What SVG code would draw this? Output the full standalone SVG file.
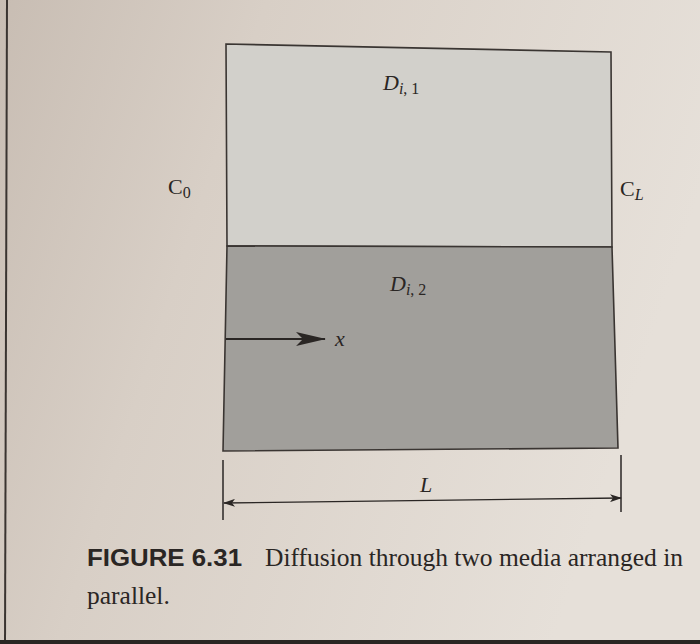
<svg xmlns="http://www.w3.org/2000/svg" width="700" height="644" viewBox="0 0 700 644">
<defs>
<linearGradient id="bg" x1="0" y1="0" x2="1" y2="0.3">
<stop offset="0" stop-color="#c8bdb3"/>
<stop offset="0.35" stop-color="#d8cfc6"/>
<stop offset="1" stop-color="#e6e0d9"/>
</linearGradient>
<marker id="ah" viewBox="0 0 12 8" refX="11" refY="4" markerWidth="12" markerHeight="8" markerUnits="userSpaceOnUse" orient="auto-start-reverse">
<path d="M0,0 L12,4 L0,8 L3,4 Z" fill="#2a2624"/>
</marker>
<marker id="ahBig" viewBox="0 0 30 14" refX="29" refY="7" markerWidth="30" markerHeight="14" markerUnits="userSpaceOnUse" orient="auto">
<path d="M0,0 L30,7 L0,14 L7,7 Z" fill="#2a2624"/>
</marker>
</defs>
<style>
.lbl{font-family:"Liberation Serif",serif;font-size:22px;fill:#2a2624}
.it{font-style:italic}
.sub{font-size:16px}
.edge{stroke:#3a3532;stroke-width:1.6}
.light{fill:#d2d0cb}
.dark{fill:#a19f9b}
.cap{font-family:"Liberation Serif",serif;font-size:25.5px;fill:#2a2624}
.capb{font-family:"Liberation Sans",sans-serif;font-weight:bold;font-size:24px;fill:#2a2624}
</style>
<rect x="0" y="0" width="700" height="644" fill="url(#bg)"/>
<line x1="7" y1="0" x2="5" y2="644" stroke="#3a3430" stroke-width="2"/>
<rect x="0" y="640" width="700" height="4" fill="#2a2522"/>

<g id="medium1">
<polygon points="226,44 611,52 612,247 227,246" class="edge light"/>
<text class="lbl" x="383" y="90"><tspan class="it">D</tspan><tspan class="it sub" dy="4">i</tspan><tspan class="sub">, 1</tspan></text>
</g>
<g id="medium2">
<polygon points="227,246 612,247 618,448 223,451" class="edge dark"/>
<text class="lbl" x="390" y="291"><tspan class="it">D</tspan><tspan class="it sub" dy="4">i</tspan><tspan class="sub">, 2</tspan></text>
</g>
<g id="c0">
<text class="lbl" x="168" y="194">C<tspan class="sub" dy="4">0</tspan></text>
</g>
<g id="cL">
<text class="lbl" x="620" y="196">C<tspan class="it sub" dy="4">L</tspan></text>
</g>
<g id="xlabel">
<text class="lbl it" x="335" y="346">x</text>
</g>
<g id="Llabel">
<text class="lbl it" x="420" y="492">L</text>
</g>

<g id="connectors">
<line x1="226" y1="339" x2="325" y2="339" stroke="#2a2624" stroke-width="2.2" marker-end="url(#ahBig)"/>
<line x1="223" y1="460" x2="223" y2="520" stroke="#2a2624" stroke-width="1.5"/>
<line x1="621" y1="455" x2="621" y2="512" stroke="#2a2624" stroke-width="1.5"/>
<line x1="224" y1="503" x2="621" y2="498" stroke="#2a2624" stroke-width="1.3" marker-start="url(#ah)" marker-end="url(#ah)"/>
</g>

<g id="caption">
<text class="capb" x="87" y="566" textLength="155" lengthAdjust="spacingAndGlyphs">FIGURE 6.31</text>
<text class="cap" x="265" y="566">Diffusion through two media arranged in</text>
<text class="cap" x="87" y="604">parallel.</text>
</g>
</svg>
